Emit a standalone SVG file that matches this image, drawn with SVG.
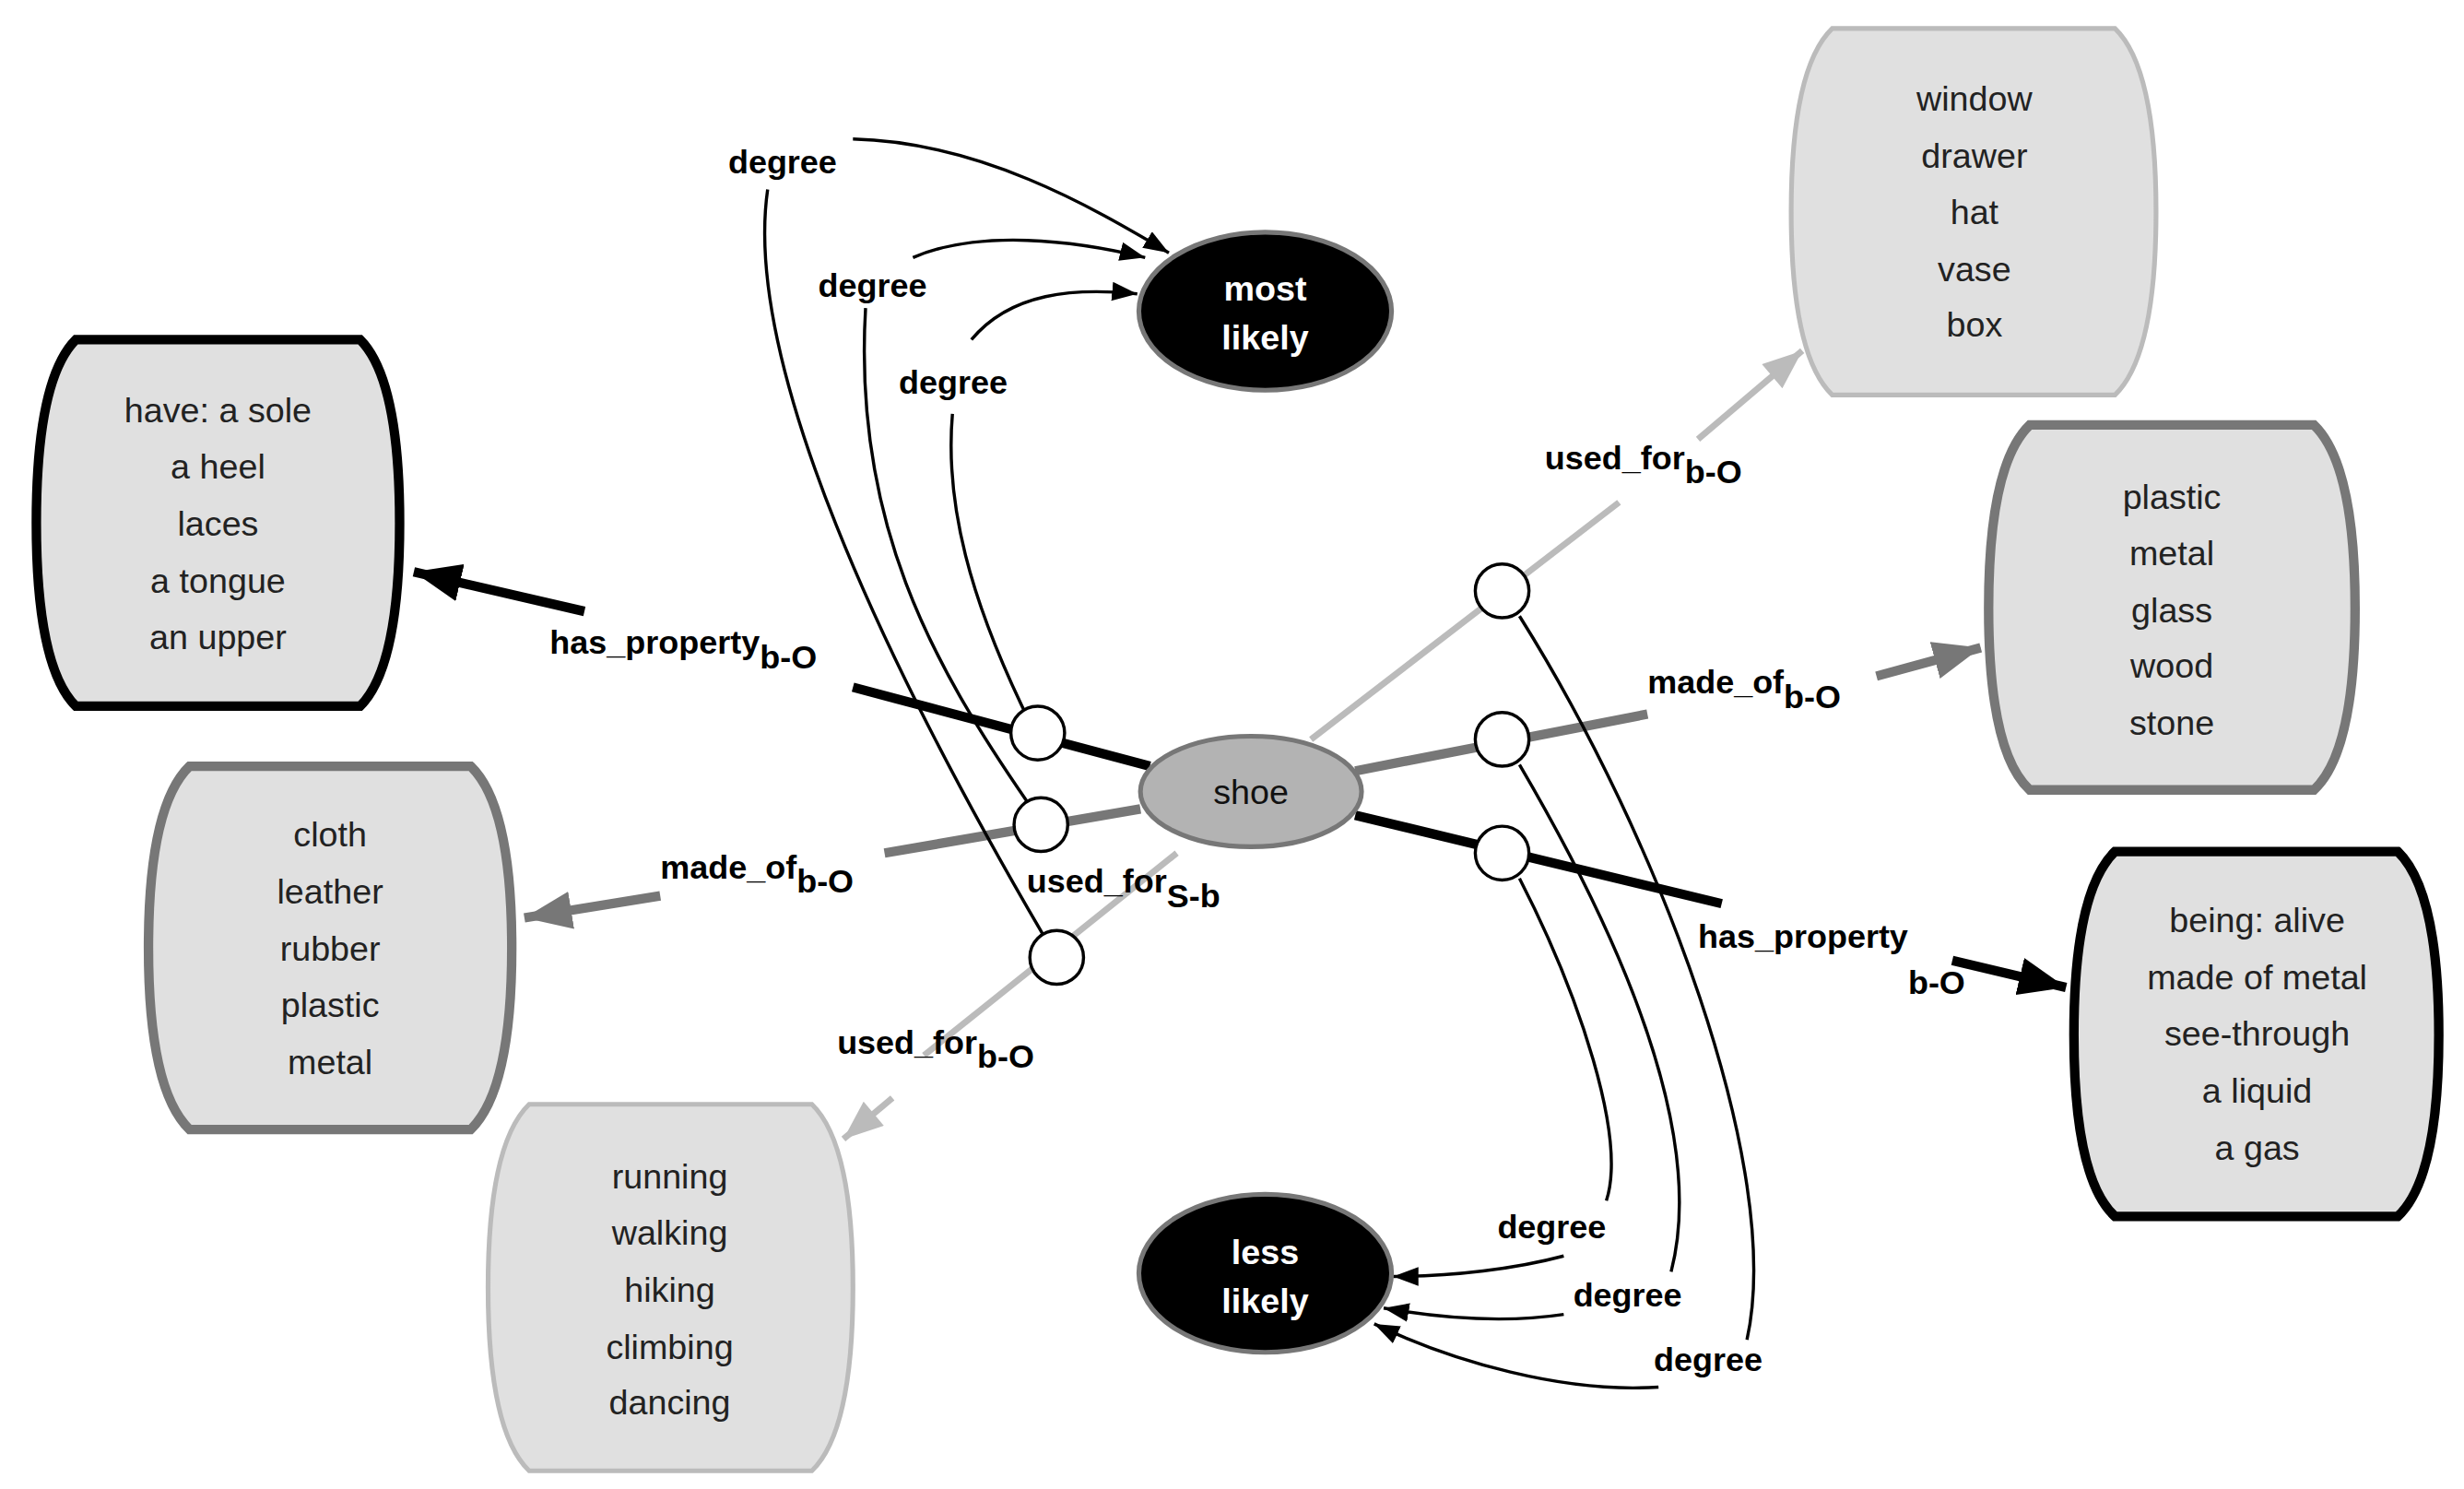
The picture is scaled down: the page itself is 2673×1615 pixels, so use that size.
<svg xmlns="http://www.w3.org/2000/svg" width="2673" height="1615" viewBox="0 0 2673 1615">
<style>
.box{fill:#e0e0e0}
.bt{font-family:"Liberation Sans",Arial,sans-serif;font-size:22px;fill:#222;text-anchor:middle}
.lb{font-family:"Liberation Sans",Arial,sans-serif;font-size:21px;font-weight:bold;fill:#000}
.el{font-family:"Liberation Sans",Arial,sans-serif;font-size:22px;font-weight:bold;fill:#fff;text-anchor:middle}
.thin{fill:none;stroke:#000;stroke-width:2}
.rc{fill:#fff;stroke:#000;stroke-width:2}
</style>
<defs>
<marker id="ak" markerUnits="userSpaceOnUse" viewBox="0 0 30 24" refX="30" refY="12" markerWidth="30" markerHeight="24" orient="auto"><path d="M0,0L30,12L0,24Z" fill="#000"/></marker>
<marker id="ag" markerUnits="userSpaceOnUse" viewBox="0 0 30 24" refX="30" refY="12" markerWidth="30" markerHeight="24" orient="auto"><path d="M0,0L30,12L0,24Z" fill="#777"/></marker>
<marker id="al" markerUnits="userSpaceOnUse" viewBox="0 0 30 24" refX="30" refY="12" markerWidth="26" markerHeight="20" orient="auto"><path d="M0,0L30,12L0,24Z" fill="#bbb"/></marker>
<marker id="at" markerUnits="userSpaceOnUse" viewBox="0 0 16 12" refX="16" refY="6" markerWidth="16" markerHeight="12" orient="auto"><path d="M0,0L16,6L0,12Z" fill="#000"/></marker>
</defs>
<g transform="scale(1.7135)">
<g id="connectors">
<path d="M728,485L540,435" stroke="#000" stroke-width="6"/>
<path d="M370,387L262,362" stroke="#000" stroke-width="6" marker-end="url(#ak)"/>
<path d="M722,512L560,540" stroke="#777" stroke-width="6"/>
<path d="M418,567L332,581" stroke="#777" stroke-width="6" marker-end="url(#ag)"/>
<path d="M745,540L585,668" stroke="#bbb" stroke-width="4"/>
<path d="M565,695L534,721" stroke="#bbb" stroke-width="4" marker-end="url(#al)"/>
<path d="M830,468L1025,318" stroke="#bbb" stroke-width="4"/>
<path d="M1075,278L1141,222" stroke="#bbb" stroke-width="4" marker-end="url(#al)"/>
<path d="M858,488L1043,452" stroke="#777" stroke-width="6"/>
<path d="M1188,428L1254,410" stroke="#777" stroke-width="6" marker-end="url(#ag)"/>
<path d="M858,516L1090,572" stroke="#000" stroke-width="6"/>
<path d="M1236,608L1308,625" stroke="#000" stroke-width="6" marker-end="url(#ak)"/>
<path class="thin" d="M648,449C615,380 598,320 603,262"/>
<path class="thin" d="M615,215C640,185 680,182 720,186" marker-end="url(#at)"/>
<path class="thin" d="M650,507C590,420 540,330 548,195"/>
<path class="thin" d="M578,163C620,145 680,152 725,163" marker-end="url(#at)"/>
<path class="thin" d="M660,591C560,420 470,230 486,120"/>
<path class="thin" d="M540,88C620,90 690,130 740,160" marker-end="url(#at)"/>
<path class="thin" d="M962,556C1000,630 1030,720 1017,760"/>
<path class="thin" d="M990,795C960,803 920,808 882,808" marker-end="url(#at)"/>
<path class="thin" d="M962,484C1030,600 1080,720 1058,805"/>
<path class="thin" d="M990,832C950,838 910,834 876,828" marker-end="url(#at)"/>
<path class="thin" d="M962,390C1050,530 1130,740 1106,848"/>
<path class="thin" d="M1050,878C990,882 920,862 870,838" marker-end="url(#at)"/>
<text class="lb" x="348" y="414">has_property<tspan dy="9">b-O</tspan></text>
<text class="lb" x="418" y="556">made_of<tspan dy="9">b-O</tspan></text>
<text class="lb" x="530" y="667">used_for<tspan dy="9">b-O</tspan></text>
<text class="lb" x="650" y="565">used_for<tspan dy="9">S-b</tspan></text>
<text class="lb" x="978" y="297">used_for<tspan dy="9">b-O</tspan></text>
<text class="lb" x="1043" y="439">made_of<tspan dy="9">b-O</tspan></text>
<text class="lb" x="1075" y="600">has_property</text>
<text class="lb" x="1208" y="629">b-O</text>
<text class="lb" x="461" y="110">degree</text>
<text class="lb" x="518" y="188">degree</text>
<text class="lb" x="569" y="249">degree</text>
<text class="lb" x="948" y="784">degree</text>
<text class="lb" x="996" y="827">degree</text>
<text class="lb" x="1047" y="868">degree</text>
</g>
<g id="rc1"><circle class="rc" cx="657" cy="464" r="17"/></g>
<g id="rc2"><circle class="rc" cx="659" cy="522" r="17"/></g>
<g id="rc3"><circle class="rc" cx="669" cy="606" r="17"/></g>
<g id="rc4"><circle class="rc" cx="951" cy="374" r="17"/></g>
<g id="rc5"><circle class="rc" cx="951" cy="468" r="17"/></g>
<g id="rc6"><circle class="rc" cx="951" cy="540" r="17"/></g>
<g id="shoe"><ellipse cx="792" cy="501" rx="70" ry="35" fill="#b3b3b3" stroke="#777" stroke-width="3"/><text x="792" y="509" text-anchor="middle" font-family="Liberation Sans, Arial, sans-serif" font-size="22" fill="#111">shoe</text></g>
<g id="most"><ellipse cx="801" cy="197" rx="80" ry="50" fill="#000" stroke="#777" stroke-width="3"/><text class="el" x="801" y="190">most</text><text class="el" x="801" y="221">likely</text></g>
<g id="less"><ellipse cx="801" cy="806" rx="80" ry="50" fill="#000" stroke="#777" stroke-width="3"/><text class="el" x="801" y="800">less</text><text class="el" x="801" y="831">likely</text></g>
<g id="hasprop-l"><path class="box" stroke="#000" stroke-width="6" d="M48,215H228Q253,240 253,331Q253,422 228,447H48Q23,422 23,331Q23,240 48,215Z"/>
<text class="bt" x="138" y="267">have: a sole</text><text class="bt" x="138" y="303">a heel</text><text class="bt" x="138" y="339">laces</text><text class="bt" x="138" y="375">a tongue</text><text class="bt" x="138" y="411">an upper</text></g>
<g id="madeof-l"><path class="box" stroke="#777" stroke-width="6" d="M120,485H298Q324,510 324,600Q324,690 298,715H120Q94,690 94,600Q94,510 120,485Z"/>
<text class="bt" x="209" y="536">cloth</text><text class="bt" x="209" y="572">leather</text><text class="bt" x="209" y="608">rubber</text><text class="bt" x="209" y="644">plastic</text><text class="bt" x="209" y="680">metal</text></g>
<g id="usedfor-l"><path class="box" stroke="#bbb" stroke-width="3" d="M335,699H514Q540,724 540,815Q540,906 514,931H335Q309,906 309,815Q309,724 335,699Z"/>
<text class="bt" x="424" y="752">running</text><text class="bt" x="424" y="788">walking</text><text class="bt" x="424" y="824">hiking</text><text class="bt" x="424" y="860">climbing</text><text class="bt" x="424" y="895">dancing</text></g>
<g id="usedfor-r"><path class="box" stroke="#bbb" stroke-width="3" d="M1160,18H1339Q1365,43 1365,134Q1365,225 1339,250H1160Q1134,225 1134,134Q1134,43 1160,18Z"/>
<text class="bt" x="1250" y="70">window</text><text class="bt" x="1250" y="106">drawer</text><text class="bt" x="1250" y="142">hat</text><text class="bt" x="1250" y="178">vase</text><text class="bt" x="1250" y="213">box</text></g>
<g id="madeof-r"><path class="box" stroke="#777" stroke-width="6" d="M1285,269H1465Q1491,294 1491,385Q1491,476 1465,500H1285Q1259,476 1259,385Q1259,294 1285,269Z"/>
<text class="bt" x="1375" y="322">plastic</text><text class="bt" x="1375" y="358">metal</text><text class="bt" x="1375" y="394">glass</text><text class="bt" x="1375" y="429">wood</text><text class="bt" x="1375" y="465">stone</text></g>
<g id="hasprop-r"><path class="box" stroke="#000" stroke-width="6" d="M1339,539H1518Q1544,564 1544,655Q1544,746 1518,770H1339Q1313,746 1313,655Q1313,564 1339,539Z"/>
<text class="bt" x="1429" y="590">being: alive</text><text class="bt" x="1429" y="626">made of metal</text><text class="bt" x="1429" y="662">see-through</text><text class="bt" x="1429" y="698">a liquid</text><text class="bt" x="1429" y="734">a gas</text></g>
</g>
</svg>
